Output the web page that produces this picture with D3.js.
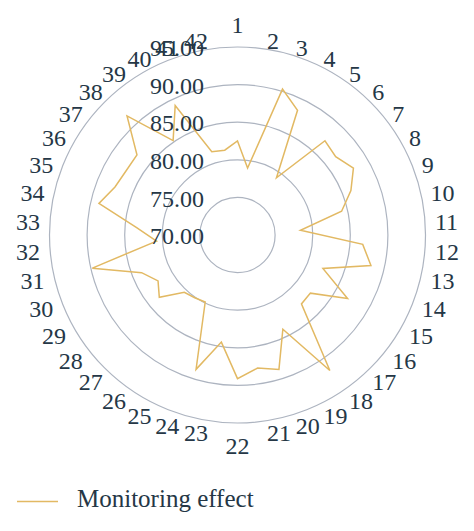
<!DOCTYPE html>
<html>
<head>
<meta charset="utf-8">
<script src="https://cdn.jsdelivr.net/npm/d3@7"></script>
<style>
    body { margin: 0; background: #fff; }
    svg text { font-family: 'Liberation Serif', 'DejaVu Serif', 'Times New Roman', Times, serif; fill: #253746; }
</style>
</head>
<body>
<div id="chart"></div>
<script>
// ***************数据*******************
const categories = ['1', '2', '3', '4', '5', '6', '7', '8', '9', '10',
    '11', '12', '13', '14', '15', '16', '17', '18', '19', '20',
    '21', '22', '23', '24', '25', '26', '27', '28', '29', '30',
    '31', '32', '33', '34', '35', '36', '37', '38', '39', '40',
    '41', '42'];
const monitoringEffect = [82.5, 79.0, 90.3, 88.4, 79.2, 87.1, 86.7, 87.8, 86.2, 84.2,
    78.4, 86.7, 88.2, 82.2, 86.9, 82.4, 82.5, 91.8, 83.9, 88.7,
    87.9, 89.1, 84.4, 88.7, 79.9, 80.1, 80.4, 83.3, 82.2, 83.7,
    89.8, 80.8, 83.5, 88.9, 87.5, 87.1, 87.1, 91.6, 85.2, 89.1,
    81.6, 81.4];
const radialTicks = [70, 75, 80, 85, 90, 95];
const seriesName = 'Monitoring effect';

// ***************布局*******************
const width = 474;
const height = 531;
const cx = 237.5;
const cy = 235;
const outerRadius = 188;
const nameGap = 10;
const fontSize = 24;
const lineColor = '#e2b963';
const gridColor = '#adb4c0';

const svg = d3.select('#chart').append('svg')
    .attr('width', width)
    .attr('height', height);

// 比例尺
const rScale = d3.scaleLinear()
    .domain([radialTicks[0], radialTicks[radialTicks.length - 1]])
    .range([0, outerRadius]);
const angle = d3.scalePoint()
    .domain(categories)
    .range([0, 2 * Math.PI * (categories.length - 1) / categories.length]);

const g = svg.append('g')
    .attr('transform', `translate(${cx},${cy})`);

// 网格圆
g.append('g')
    .attr('class', 'grid')
    .selectAll('circle')
    .data(radialTicks.filter((d) => rScale(d) > 0))
    .join('circle')
    .attr('r', (d) => rScale(d))
    .attr('fill', 'none')
    .attr('stroke', gridColor)
    .attr('stroke-width', 1.2);

// 数据线
const radarLine = d3.lineRadial()
    .angle((d, i) => angle(categories[i]))
    .radius((d) => rScale(d))
    .curve(d3.curveLinearClosed);

g.append('path')
    .attr('d', radarLine(monitoringEffect))
    .attr('fill', 'none')
    .attr('stroke', lineColor)
    .attr('stroke-width', 1.5)
    .attr('stroke-linejoin', 'miter');

// 径向刻度
g.append('g')
    .attr('class', 'r-axis')
    .selectAll('text')
    .data(radialTicks)
    .join('text')
    .attr('x', -33.5)
    .attr('y', (d) => -rScale(d) + fontSize * 0.34 + 1)
    .attr('text-anchor', 'end')
    .attr('font-size', fontSize)
    .text((d) => d3.format('.2f')(d));

// 类别标签
g.append('g')
    .attr('class', 'a-axis')
    .selectAll('text')
    .data(categories)
    .join('text')
    .each(function (d) {
        const a = angle(d);
        const s = Math.sin(a);
        const c = Math.cos(a);
        const r = outerRadius + nameGap;
        const px = r * s;
        const py = -r * c;
        let anchor = s > 0 ? 'start' : 'end';
        let by = py + fontSize * 0.34 + 2;
        if (Math.abs(s) < 1e-6) {
            anchor = 'middle';
            by = c > 0 ? py - fontSize * 0.18 : py + fontSize * 0.86;
        }
        d3.select(this)
            .attr('x', px)
            .attr('y', by)
            .attr('text-anchor', anchor);
    })
    .attr('font-size', fontSize)
    .text((d) => d);

// 图例
const legend = svg.append('g').attr('class', 'legend');
legend.append('line')
    .attr('x1', 17)
    .attr('x2', 58)
    .attr('y1', 501.5)
    .attr('y2', 501.5)
    .attr('stroke', lineColor)
    .attr('stroke-width', 1.5);
legend.append('text')
    .attr('x', 77)
    .attr('y', 507)
    .attr('font-size', 25)
    .text(seriesName);
</script>
</body>
</html>
